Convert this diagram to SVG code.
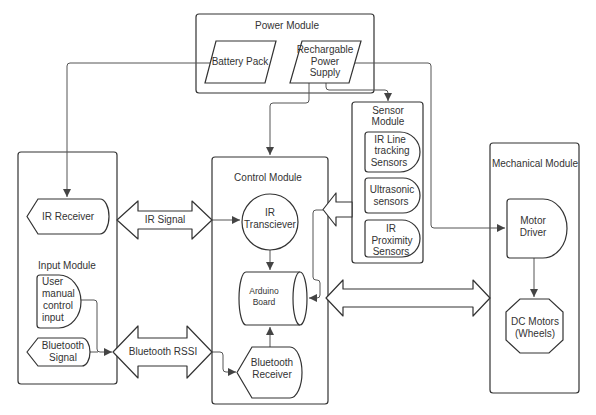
<svg xmlns="http://www.w3.org/2000/svg" width="596" height="415" viewBox="0 0 596 415">
<defs>
<marker id="ah" markerUnits="userSpaceOnUse" markerWidth="9" markerHeight="8" refX="8" refY="4" orient="auto">
<path d="M0,0 L8,4 L0,8 Z" fill="#444"/>
</marker>
<style>
.sh{fill:#fff;stroke:#333;stroke-width:1.2}
.mod{fill:#fff;stroke:#333;stroke-width:1.2}
.cn{fill:none;stroke:#555;stroke-width:1}
.ba{fill:#fff;stroke:#333;stroke-width:1.2;stroke-linejoin:round}
text{font-family:"Liberation Sans",Arial,sans-serif;font-size:10px;fill:#333;text-anchor:middle;dominant-baseline:middle}
.sm{font-size:8.5px}
.lt{text-anchor:start}
</style>
</defs>
<rect width="596" height="415" fill="#fff"/>

<g id="modules">
<rect id="power-module" class="mod" x="196" y="14" width="178" height="79" rx="3"/>
<rect id="input-module" class="mod" x="18" y="152" width="99" height="232" rx="3"/>
<rect id="control-module" class="mod" x="212" y="157" width="116" height="247" rx="3"/>
<rect id="sensor-module" class="mod" x="352" y="102" width="71" height="161" rx="3"/>
<rect id="mechanical-module" class="mod" x="490" y="143" width="89" height="250" rx="3"/>
<text x="287" y="26">Power Module</text>
<text x="67" y="266">Input Module</text>
<text x="268" y="178">Control Module</text>
<text x="388" y="111">Sensor</text>
<text x="388" y="122">Module</text>
<text x="535" y="164">Mechanical Module</text>
</g>

<g id="connectors">
<path class="cn" d="M210,63 H70 Q67,63 67,66 V197" marker-end="url(#ah)"/>
<path class="cn" d="M355,63 H428 Q431,63 431,66 V225 Q431,228 434,228 H505" marker-end="url(#ah)"/>
<path class="cn" d="M309,83 V100 Q309,103 306,103 H273 Q270,103 270,106 V155" marker-end="url(#ah)"/>
<path class="cn" d="M326,83 V87 Q326,90 329,90 H385 Q388,90 388,93 V101" marker-end="url(#ah)"/>
<path class="cn" d="M212,220 H240" marker-end="url(#ah)"/>
<path class="cn" d="M270,250 V270" marker-end="url(#ah)"/>
<path class="cn" d="M270,347 V327" marker-end="url(#ah)"/>
<path class="cn" d="M323,210 H316 Q313,210 313,213 V277 Q313,280 316,280 H317 Q320,280 320,283 V295 Q320,298 317,298 H309" marker-end="url(#ah)"/>
<path class="cn" d="M212,352 H220 Q223,352 223,355 V369 Q223,372 226,372 H236" marker-end="url(#ah)"/>
<path class="cn" d="M81,300 H94 Q97,300 97,303 V349 Q97,352 100,352 H112" marker-end="url(#ah)"/>
<path class="cn" d="M90,352 H98"/>
<path class="cn" d="M534,258 V297" marker-end="url(#ah)"/>
</g>

<g id="battery-pack">
<path class="sh" d="M216,41 H276 L265,83 H205 Z"/>
<text x="240" y="62">Battery Pack</text>
</g>
<g id="rechargable-power-supply">
<path class="sh" d="M302,41 H361 L349,83 H290 Z"/>
<text x="325" y="50">Rechargable</text>
<text x="325" y="62">Power</text>
<text x="325" y="73">Supply</text>
</g>

<g id="ir-receiver">
<path class="sh" d="M27,216.5 L38,199 H100 A9 17.5 0 0 1 100,234 H38 Z"/>
<text x="68" y="217">IR Receiver</text>
</g>
<g id="user-manual-control-input">
<path class="sh" d="M40,275 H59 A22 26.5 0 0 1 59,328 H40 Q37,328 37,325 V278 Q37,275 40,275 Z"/>
<text class="lt" x="42" y="282">User</text>
<text class="lt" x="42" y="294">manual</text>
<text class="lt" x="43" y="306">control</text>
<text class="lt" x="42" y="318">input</text>
</g>
<g id="bluetooth-signal">
<path class="sh" d="M27,352 L38,338 H82 A8 14 0 0 1 82,366 H38 Z"/>
<text x="63" y="346">Bluetooth</text>
<text x="63" y="358">Signal</text>
</g>

<g id="ir-signal">
<path class="ba" d="M117,220 L138,201 V211 H192 V201 L212,220 L192,239 V229 H138 V239 Z"/>
<text x="165" y="220">IR Signal</text>
</g>
<g id="bluetooth-rssi">
<path class="ba" d="M113,352 L138,326 V338 H187 V326 L212,352 L187,378 V366 H138 V378 Z"/>
<text x="163" y="352">Bluetooth RSSI</text>
</g>

<g id="ir-transciever">
<circle class="sh" cx="270" cy="222" r="28"/>
<text x="270" y="213">IR</text>
<text x="270" y="225">Transciever</text>
</g>
<g id="arduino-board">
<path class="sh" d="M246,272 H300 A7 26.5 0 0 1 300,325 H246 A7 26.5 0 0 1 246,272 Z"/>
<path class="sh" fill="none" d="M300,272 A7 26.5 0 0 0 300,325"/>
<text class="sm" x="264" y="292">Arduino</text>
<text class="sm" x="264" y="303">Board</text>
</g>
<g id="bluetooth-receiver">
<path class="sh" d="M237,372.5 L252,347 H290 A12 25.5 0 0 1 290,398 H252 Z"/>
<text x="272" y="363">Bluetooth</text>
<text x="272" y="375">Receiver</text>
</g>

<g id="sensor-arrow">
<path class="ba" d="M323,209.5 L336,193 V202 H352 V217 H336 V226 Z"/>
</g>
<g id="ir-line-tracking-sensors">
<path class="sh" d="M368,132 H400 A20 20 0 0 1 400,172 H368 Q365,172 365,169 V135 Q365,132 368,132 Z"/>
<text x="390" y="140">IR Line</text>
<text x="392" y="151">tracking</text>
<text x="389" y="163">Sensors</text>
</g>
<g id="ultrasonic-sensors">
<path class="sh" d="M368,178 H403 A17 17.5 0 0 1 403,213 H368 Q365,213 365,210 V181 Q365,178 368,178 Z"/>
<text x="392" y="190">Ultrasonic</text>
<text x="391" y="202">sensors</text>
</g>
<g id="ir-proximity-sensors">
<path class="sh" d="M368,220 H402 A18 18.5 0 0 1 402,257 H368 Q365,257 365,254 V223 Q365,220 368,220 Z"/>
<text x="391" y="229">IR</text>
<text x="392" y="241">Proximity</text>
<text x="391" y="252">Sensors</text>
</g>

<g id="control-mechanical-link">
<path class="ba" d="M326,298 L343,280 V289 H473 V280 L490,298 L473,316 V307 H343 V316 Z"/>
</g>

<g id="motor-driver">
<path class="sh" d="M510,199 H543 A24 29.5 0 0 1 543,258 H510 Q507,258 507,255 V202 Q507,199 510,199 Z"/>
<text x="533" y="221">Motor</text>
<text x="533" y="233">Driver</text>
</g>
<g id="dc-motors">
<path class="sh" d="M520,299 H549 L563,312 V340 L549,353 H520 L506,340 V312 Z"/>
<text x="535" y="322">DC Motors</text>
<text x="535" y="334">(Wheels)</text>
</g>
</svg>
